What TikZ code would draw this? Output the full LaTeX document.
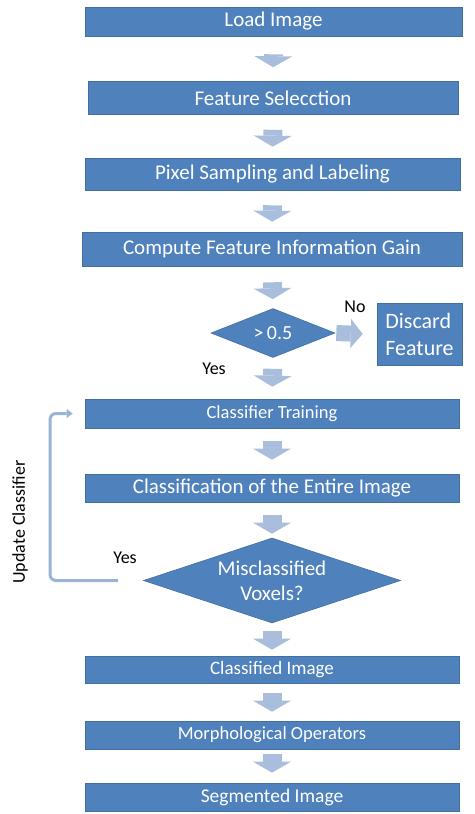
\documentclass[tikz,border=0pt]{standalone}
\usepackage{fontspec}
\setmainfont{Carlito}
\usetikzlibrary{shapes.geometric,arrows.meta}
\definecolor{boxblue}{HTML}{4F81BD}
\definecolor{boxedge}{HTML}{41709F}
\definecolor{arrblue}{HTML}{A9BEDC}
\definecolor{loopblue}{HTML}{9AB4D6}
\begin{document}
\begin{tikzpicture}[x=1pt,y=-1pt,
  box/.style={rectangle,fill=boxblue,draw=boxedge,line width=0.6pt,inner sep=0pt,text=white,font=\fontsize{21}{24}\selectfont},
  dia/.style={diamond,fill=boxblue,draw=boxedge,line width=0.6pt,inner sep=0pt},
  dtext/.style={text=white,align=center,inner sep=0pt,font=\fontsize{21}{25}\selectfont},
  blk/.style 2 args={draw=arrblue,line width=19pt,-{Triangle[width=38pt,length=11pt,line width=0pt]},shorten <=#1,shorten >=#2},
  lbl/.style={font=\fontsize{18}{21}\selectfont,text=black,inner sep=0pt}]
\useasboundingbox (0,0) rectangle (474,814);
\node[box,minimum width=377pt,minimum height=29pt] (b1) at (273.5,21.5) {Load Image};
\node[box,minimum width=370pt,minimum height=33pt] (b2) at (273,98) {Feature Selecction};
\node[box,minimum width=375pt,minimum height=32pt] (b3) at (272.5,174) {Pixel Sampling and Labeling};
\node[box,minimum width=380pt,minimum height=34pt] (b4) at (272,249) {Compute Feature Information Gain};
\node[dia,minimum width=124pt,minimum height=49pt,label={[dtext,font=\fontsize{20}{24}\selectfont]center:>\,0.5}] (d1) at (273,333) {};
\node[box,minimum width=85pt,minimum height=62pt,align=left,font=\fontsize{22}{27}\selectfont] (disc) at (419.5,334.5) {Discard\\Feature};
\node[box,minimum width=374pt,minimum height=29pt,font=\fontsize{18.5}{21}\selectfont] (b5) at (272,413.5) {Classifier Training};
\node[box,minimum width=374pt,minimum height=28pt] (b6) at (272,488) {Classification of the Entire Image};
\node[dia,minimum width=257pt,minimum height=85pt,label={[dtext]center:Misclassified\\Voxels?}] (d2) at (272,580.5) {};
\node[box,minimum width=374pt,minimum height=27pt,font=\fontsize{19}{22}\selectfont] (b7) at (272,669.5) {Classified Image};
\node[box,minimum width=374pt,minimum height=28pt,font=\fontsize{18.5}{22}\selectfont] (b8) at (272,735) {Morphological Operators};
\node[box,minimum width=374pt,minimum height=28pt,font=\fontsize{19.5}{22}\selectfont] (b9) at (272,797) {Segmented Image};
% labels
\node[lbl] (no) at (355,307) {No};
\node[lbl] (yes1) at (214,369) {Yes};
\node[lbl] (yes2) at (125,558) {Yes};
\node[lbl,rotate=90] (upd) at (20,522) {Update Classifier};
% block arrows
\draw[blk={18pt}{14pt}] (b1.south) -- (b2.north);
\draw[blk={15pt}{11pt}] (b2.south) -- (b3.north);
\draw[blk={15pt}{10pt}] (b3.south) -- (b4.north);
\draw[blk={16pt}{9pt}] (b4.south) -- (d1.north);
\draw[blk={11pt}{12pt}] (d1.south) -- (b5.north);
\draw[blk={13pt}{14pt}] (b5.south) -- (b6.north);
\draw[blk={13pt}{4pt}] (b6.south) -- (d2.north);
\draw[blk={8pt}{6pt}] (d2.south) -- (b7.north);
\draw[blk={10pt}{9pt}] (b7.south) -- (b8.north);
\draw[blk={5pt}{10pt}] (b8.south) -- (b9.north);
\draw[draw=arrblue,line width=16pt,-{Triangle[width=29pt,length=12pt,line width=0pt]},shorten <=1pt,shorten >=14pt] (d1.east) -- (disc.west);
% loop
\coordinate (lc) at (50,413.5);
\draw[draw=loopblue,line width=3pt,rounded corners=6pt,-{Triangle[width=9pt,length=6pt,line width=0pt]},shorten <=25pt,shorten >=12pt] (d2.west) -| (lc) -- (b5.west);
\end{tikzpicture}
\end{document}
